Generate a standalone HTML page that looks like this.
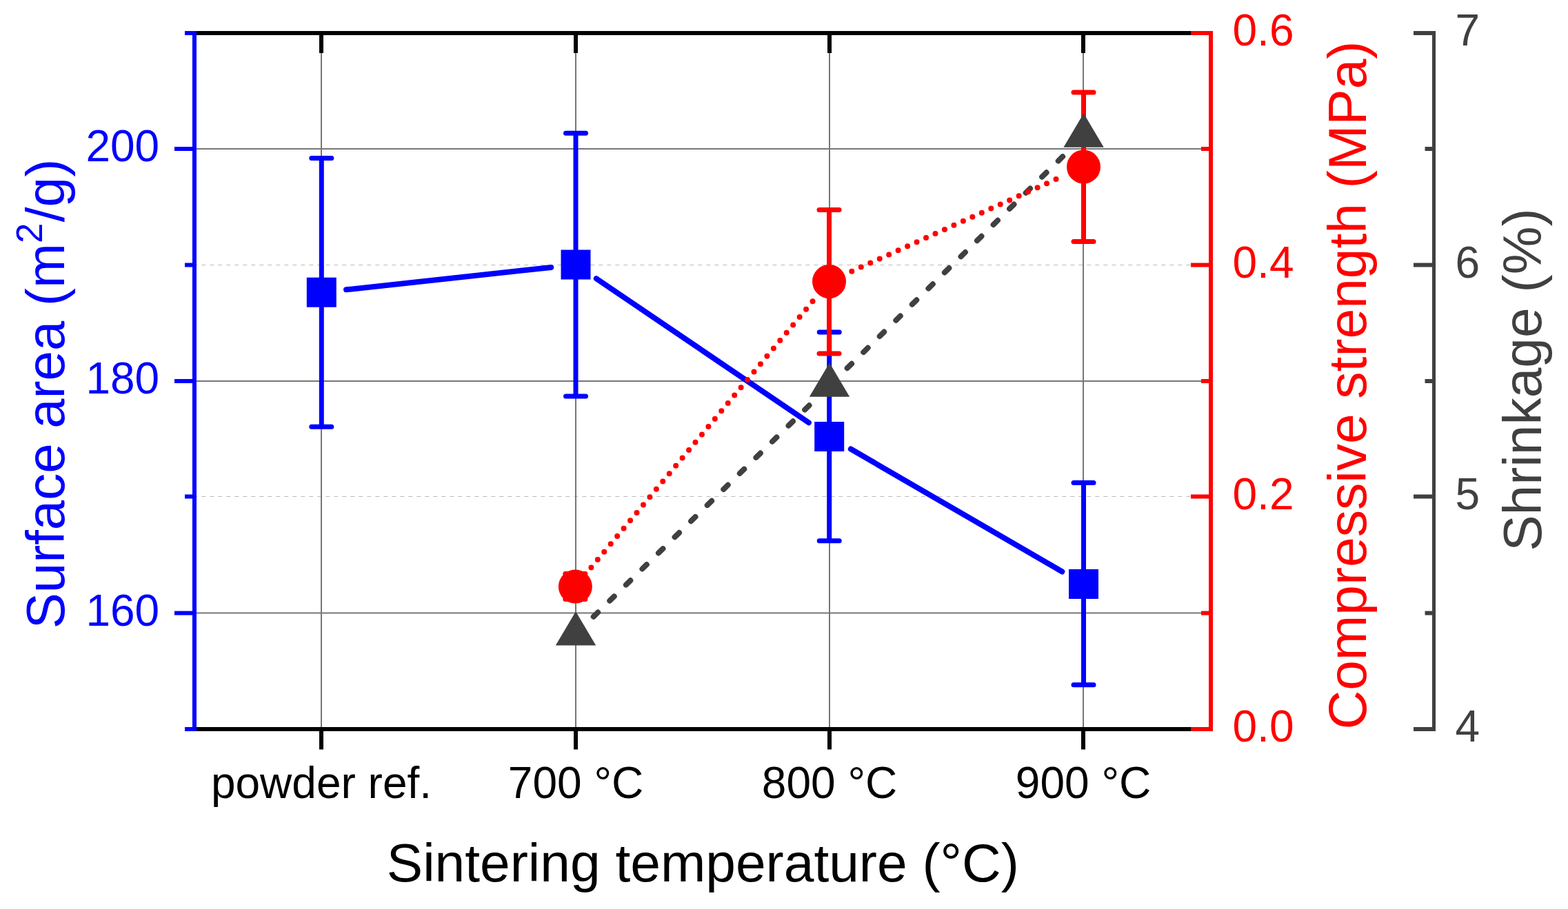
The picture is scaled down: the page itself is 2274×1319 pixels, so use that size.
<!DOCTYPE html>
<html><head><meta charset="utf-8"><style>html,body{margin:0;padding:0;background:#fff;}svg{display:block;}</style></head>
<body>
<svg width="2274" height="1319" viewBox="0 0 2274 1319" font-family="Liberation Sans, Arial, sans-serif">
<rect width="2274" height="1319" fill="#fff"/>
<line x1="280.3" y1="720.50" x2="1756" y2="720.50" stroke="#bbbbbb" stroke-width="1" stroke-dasharray="6 6"/>
<line x1="280.3" y1="384.50" x2="1756" y2="384.50" stroke="#bbbbbb" stroke-width="1" stroke-dasharray="6 6"/>
<line x1="282" y1="889.60" x2="1756" y2="889.60" stroke="#767676" stroke-width="2"/>
<line x1="282" y1="553.00" x2="1756" y2="553.00" stroke="#767676" stroke-width="2"/>
<line x1="282" y1="216.00" x2="1756" y2="216.00" stroke="#767676" stroke-width="2"/>
<line x1="466.00" y1="48" x2="466.00" y2="1058" stroke="#767676" stroke-width="2"/>
<line x1="835.00" y1="48" x2="835.00" y2="1058" stroke="#767676" stroke-width="2"/>
<line x1="1203.00" y1="48" x2="1203.00" y2="1058" stroke="#767676" stroke-width="2"/>
<line x1="1571.00" y1="48" x2="1571.00" y2="1058" stroke="#767676" stroke-width="2"/>
<line x1="282" y1="48" x2="1756" y2="48" stroke="#000" stroke-width="6"/>
<line x1="282" y1="1058" x2="1756" y2="1058" stroke="#000" stroke-width="6"/>
<line x1="466.00" y1="48" x2="466.00" y2="77" stroke="#000" stroke-width="6"/>
<line x1="466.00" y1="1058" x2="466.00" y2="1087.5" stroke="#000" stroke-width="6"/>
<line x1="835.00" y1="48" x2="835.00" y2="77" stroke="#000" stroke-width="6"/>
<line x1="835.00" y1="1058" x2="835.00" y2="1087.5" stroke="#000" stroke-width="6"/>
<line x1="1203.00" y1="48" x2="1203.00" y2="77" stroke="#000" stroke-width="6"/>
<line x1="1203.00" y1="1058" x2="1203.00" y2="1087.5" stroke="#000" stroke-width="6"/>
<line x1="1571.00" y1="48" x2="1571.00" y2="77" stroke="#000" stroke-width="6"/>
<line x1="1571.00" y1="1058" x2="1571.00" y2="1087.5" stroke="#000" stroke-width="6"/>
<line x1="282" y1="45" x2="282" y2="1061" stroke="#0000ff" stroke-width="6"/>
<line x1="268" y1="1058.00" x2="282" y2="1058.00" stroke="#0000ff" stroke-width="6"/>
<line x1="253" y1="889.60" x2="282" y2="889.60" stroke="#0000ff" stroke-width="6"/>
<line x1="268" y1="720.50" x2="282" y2="720.50" stroke="#0000ff" stroke-width="6"/>
<line x1="253" y1="553.00" x2="282" y2="553.00" stroke="#0000ff" stroke-width="6"/>
<line x1="268" y1="384.50" x2="282" y2="384.50" stroke="#0000ff" stroke-width="6"/>
<line x1="253" y1="216.00" x2="282" y2="216.00" stroke="#0000ff" stroke-width="6"/>
<line x1="268" y1="48.00" x2="282" y2="48.00" stroke="#0000ff" stroke-width="6"/>
<line x1="1756" y1="45" x2="1756" y2="1061" stroke="#ff0000" stroke-width="6"/>
<line x1="1727" y1="1058.00" x2="1759" y2="1058.00" stroke="#ff0000" stroke-width="6"/>
<line x1="1742" y1="889.60" x2="1759" y2="889.60" stroke="#ff0000" stroke-width="6"/>
<line x1="1727" y1="720.50" x2="1759" y2="720.50" stroke="#ff0000" stroke-width="6"/>
<line x1="1742" y1="553.00" x2="1759" y2="553.00" stroke="#ff0000" stroke-width="6"/>
<line x1="1727" y1="384.50" x2="1759" y2="384.50" stroke="#ff0000" stroke-width="6"/>
<line x1="1742" y1="216.00" x2="1759" y2="216.00" stroke="#ff0000" stroke-width="6"/>
<line x1="1727" y1="48.00" x2="1759" y2="48.00" stroke="#ff0000" stroke-width="6"/>
<line x1="2079.5" y1="45" x2="2079.5" y2="1061" stroke="#404040" stroke-width="5"/>
<line x1="2050.0" y1="1058.00" x2="2082.0" y2="1058.00" stroke="#404040" stroke-width="6"/>
<line x1="2066.5" y1="889.60" x2="2082.0" y2="889.60" stroke="#404040" stroke-width="6"/>
<line x1="2050.0" y1="720.50" x2="2082.0" y2="720.50" stroke="#404040" stroke-width="6"/>
<line x1="2066.5" y1="553.00" x2="2082.0" y2="553.00" stroke="#404040" stroke-width="6"/>
<line x1="2050.0" y1="384.50" x2="2082.0" y2="384.50" stroke="#404040" stroke-width="6"/>
<line x1="2066.5" y1="216.00" x2="2082.0" y2="216.00" stroke="#404040" stroke-width="6"/>
<line x1="2050.0" y1="48.00" x2="2082.0" y2="48.00" stroke="#404040" stroke-width="6"/>
<text x="231.2" y="907.80" font-size="64" fill="#0000ff" text-anchor="end">160</text>
<text x="231.2" y="571.20" font-size="64" fill="#0000ff" text-anchor="end">180</text>
<text x="231.2" y="234.20" font-size="64" fill="#0000ff" text-anchor="end">200</text>
<text x="1787.5" y="1076.20" font-size="64" fill="#ff0000">0.0</text>
<text x="1787.5" y="738.70" font-size="64" fill="#ff0000">0.2</text>
<text x="1787.5" y="402.70" font-size="64" fill="#ff0000">0.4</text>
<text x="1787.5" y="66.20" font-size="64" fill="#ff0000">0.6</text>
<text x="2110.4" y="1076.20" font-size="64" fill="#404040">4</text>
<text x="2110.4" y="738.70" font-size="64" fill="#404040">5</text>
<text x="2110.4" y="402.70" font-size="64" fill="#404040">6</text>
<text x="2110.4" y="66.20" font-size="64" fill="#404040">7</text>
<text x="466.00" y="1158.2" font-size="64" fill="#000" text-anchor="middle">powder ref.</text>
<text x="835.00" y="1158.2" font-size="64" fill="#000" text-anchor="middle">700 °C</text>
<text x="1203.00" y="1158.2" font-size="64" fill="#000" text-anchor="middle">800 °C</text>
<text x="1571.00" y="1158.2" font-size="64" fill="#000" text-anchor="middle">900 °C</text>
<text x="560.8" y="1278.8" font-size="78.5" fill="#000">Sintering temperature (°C)</text>
<text transform="translate(93,912.24) rotate(-90)" font-size="78" fill="#0000ff">Surface area (m</text>
<text transform="translate(60.8,353.07) rotate(-90)" font-size="53" fill="#0000ff">2</text>
<text transform="translate(93,322.3) rotate(-90)" font-size="78.5" fill="#0000ff">/g)</text>
<text transform="translate(1981,1058.5) rotate(-90)" font-size="78.5" fill="#ff0000">Compressive strength (MPa)</text>
<text transform="translate(2235.3,799.8) rotate(-90)" font-size="78.5" fill="#404040">Shrinkage (%)</text>
<line x1="502.09" y1="420.30" x2="799.21" y2="387.90" stroke="#0000ff" stroke-width="8" stroke-linecap="round"/>
<line x1="864.79" y1="404.21" x2="1172.91" y2="613.29" stroke="#0000ff" stroke-width="8" stroke-linecap="round"/>
<line x1="1233.84" y1="651.57" x2="1540.36" y2="829.43" stroke="#0000ff" stroke-width="8" stroke-linecap="round"/>
<line x1="466.3" y1="229.5" x2="466.3" y2="619.3" stroke="#0000ff" stroke-width="7"/>
<line x1="451.8" y1="229.5" x2="480.8" y2="229.5" stroke="#0000ff" stroke-width="7" stroke-linecap="round"/>
<line x1="451.8" y1="619.3" x2="480.8" y2="619.3" stroke="#0000ff" stroke-width="7" stroke-linecap="round"/>
<line x1="835" y1="193.3" x2="835" y2="575" stroke="#0000ff" stroke-width="7"/>
<line x1="820.5" y1="193.3" x2="849.5" y2="193.3" stroke="#0000ff" stroke-width="7" stroke-linecap="round"/>
<line x1="820.5" y1="575" x2="849.5" y2="575" stroke="#0000ff" stroke-width="7" stroke-linecap="round"/>
<line x1="1202.7" y1="482" x2="1202.7" y2="784.8" stroke="#0000ff" stroke-width="7"/>
<line x1="1188.2" y1="482" x2="1217.2" y2="482" stroke="#0000ff" stroke-width="7" stroke-linecap="round"/>
<line x1="1188.2" y1="784.8" x2="1217.2" y2="784.8" stroke="#0000ff" stroke-width="7" stroke-linecap="round"/>
<line x1="1571.5" y1="700.5" x2="1571.5" y2="993.75" stroke="#0000ff" stroke-width="7"/>
<line x1="1557.0" y1="700.5" x2="1586.0" y2="700.5" stroke="#0000ff" stroke-width="7" stroke-linecap="round"/>
<line x1="1557.0" y1="993.75" x2="1586.0" y2="993.75" stroke="#0000ff" stroke-width="7" stroke-linecap="round"/>
<rect x="444.80" y="402.70" width="43" height="43" fill="#0000ff"/>
<rect x="813.50" y="362.50" width="43" height="43" fill="#0000ff"/>
<rect x="1181.20" y="612.00" width="43" height="43" fill="#0000ff"/>
<rect x="1550.00" y="826.00" width="43" height="43" fill="#0000ff"/>
<line x1="860.71" y1="894.80" x2="1177.29" y2="584.60" stroke="#404040" stroke-width="8" stroke-linecap="round" stroke-dasharray="9 24"/>
<line x1="1228.68" y1="534.17" x2="1545.92" y2="222.53" stroke="#404040" stroke-width="8" stroke-linecap="round" stroke-dasharray="9 24"/>
<line x1="834.35" y1="832.5" x2="834.35" y2="869.4" stroke="#ff0000" stroke-width="7"/>
<line x1="819.85" y1="832.5" x2="848.85" y2="832.5" stroke="#ff0000" stroke-width="7" stroke-linecap="round"/>
<line x1="819.85" y1="869.4" x2="848.85" y2="869.4" stroke="#ff0000" stroke-width="7" stroke-linecap="round"/>
<line x1="1202.5" y1="304.5" x2="1202.5" y2="513" stroke="#ff0000" stroke-width="7"/>
<line x1="1188.0" y1="304.5" x2="1217.0" y2="304.5" stroke="#ff0000" stroke-width="7" stroke-linecap="round"/>
<line x1="1188.0" y1="513" x2="1217.0" y2="513" stroke="#ff0000" stroke-width="7" stroke-linecap="round"/>
<line x1="1571.5" y1="134.1" x2="1571.5" y2="350.4" stroke="#ff0000" stroke-width="7"/>
<line x1="1557.0" y1="134.1" x2="1586.0" y2="134.1" stroke="#ff0000" stroke-width="7" stroke-linecap="round"/>
<line x1="1557.0" y1="350.4" x2="1586.0" y2="350.4" stroke="#ff0000" stroke-width="7" stroke-linecap="round"/>
<line x1="857.37" y1="823.42" x2="1179.48" y2="436.18" stroke="#ff0000" stroke-width="8" stroke-linecap="round" stroke-dasharray="0 14.77"/>
<line x1="1235.31" y1="393.69" x2="1538.69" y2="256.81" stroke="#ff0000" stroke-width="8" stroke-linecap="round" stroke-dasharray="0 14.77"/>
<circle cx="834.35" cy="851.1" r="24.5" fill="#ff0000"/>
<circle cx="1202.5" cy="408.5" r="24.5" fill="#ff0000"/>
<circle cx="1571.5" cy="242" r="24.5" fill="#ff0000"/>
<polygon points="835.00,887.20 864.20,936.40 805.80,936.40" fill="#404040"/>
<polygon points="1203.00,526.60 1232.20,575.80 1173.80,575.80" fill="#404040"/>
<polygon points="1571.60,164.50 1600.80,213.70 1542.40,213.70" fill="#404040"/>
</svg>
</body></html>
